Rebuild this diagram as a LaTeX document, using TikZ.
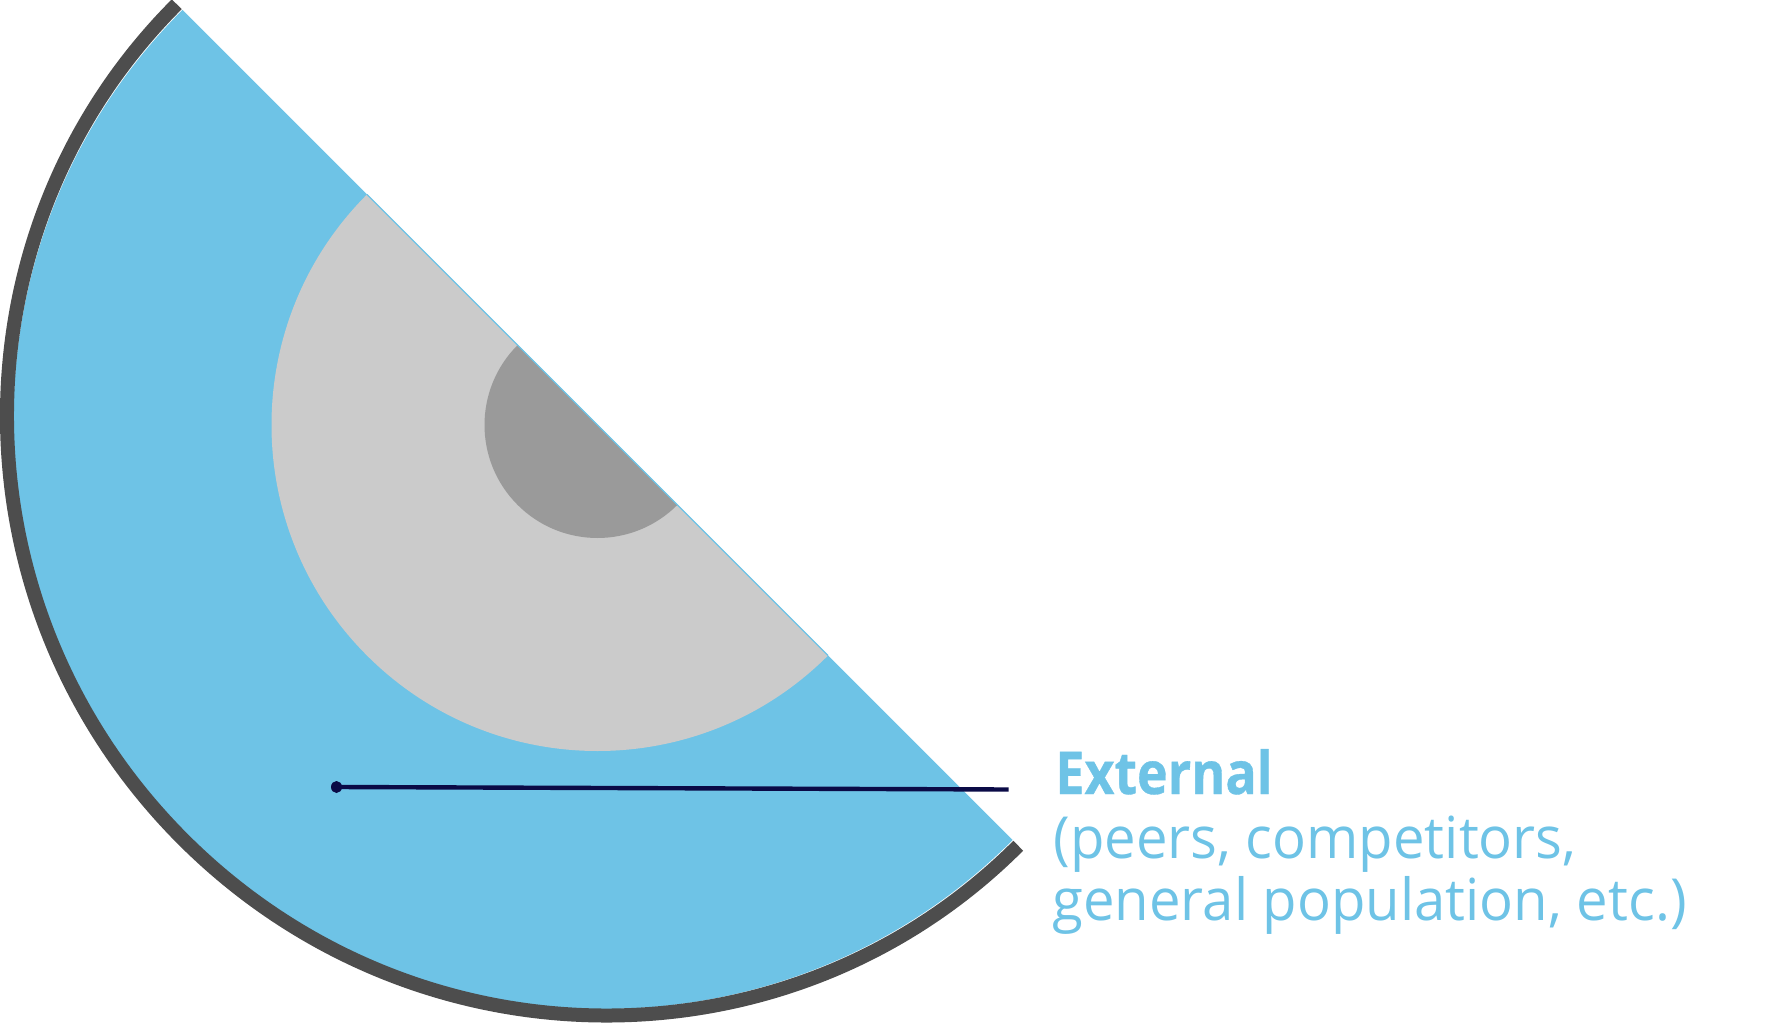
\documentclass[tikz,border=0pt]{standalone}
\usepackage{fontspec}
\usetikzlibrary{calc}
\setmainfont{Open Sans}
\newfontfamily\lblfont[FakeStretch=0.97]{Open Sans}
\newfontfamily\headfont[FakeStretch=0.88,FakeBold=0.6]{Open Sans Bold}
\definecolor{extblue}{RGB}{110,195,230}
\definecolor{midgray}{RGB}{203,203,203}
\definecolor{coregray}{RGB}{154,154,154}
\definecolor{rimgray}{RGB}{77,77,77}
\definecolor{navy}{RGB}{10,10,70}
\tikzset{
  lbl/.style={anchor=base west, inner sep=0pt, text=extblue, font=\lblfont\fontsize{29}{34}\selectfont},
  head/.style={lbl, font=\headfont\fontsize{29.5}{34}\selectfont},
  leader/.style={draw=navy, line width=2.2pt},
}
\begin{document}
\begin{tikzpicture}[x=0.5pt,y=0.5pt]
\useasboundingbox (0,0) rectangle (1784,1025);
\coordinate (C) at (597.5,600);
\begin{scope}[shift={(C)}, rotate=-45]
% blue outer half disc (slightly elliptic)
\fill[extblue] (-587,0) arc[start angle=180, end angle=360, x radius=587, y radius=581] -- cycle;
% rim
\draw[rimgray, line width=7pt] (-595,0) arc[start angle=180, end angle=360, x radius=595, y radius=586];
% middle ring
\fill[midgray] (-326,0) arc[start angle=180, end angle=360, radius=326] -- cycle;
% core
\fill[coregray] (-113,0) arc[start angle=180, end angle=360, radius=113] -- cycle;
% thin blue edge along diameter
\draw[extblue, line width=0.6pt] (-326,0) -- (326,0);
\end{scope}
% leader
\coordinate (dot) at (336.5,238);
\coordinate (lend) at (1008.5,235.5);
\draw[leader] (dot) -- (lend);
\fill[navy] (dot) ellipse[x radius=5.5, y radius=6];
% labels
\node[head] (lab1) at (1055,231) {External};
\node[lbl] (lab2) at (1053,167) {(peers, competitors,};
\node[lbl] (lab3) at (1052,105) {general population, etc.)};
\end{tikzpicture}
\end{document}
